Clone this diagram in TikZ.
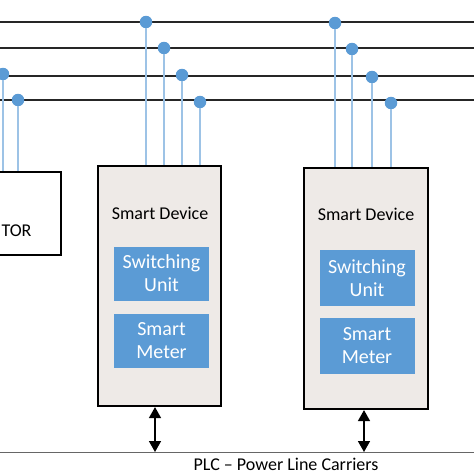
\documentclass[tikz,border=0pt]{standalone}
\usepackage{fontspec}
\setmainfont{Carlito}
\usetikzlibrary{arrows.meta}
\definecolor{tap}{HTML}{5B9BD5}
\definecolor{drop}{HTML}{9DC3E6}
\definecolor{shell}{HTML}{EEEAE7}
\definecolor{wire}{HTML}{262626}

\begin{document}
\begin{tikzpicture}[x=1pt,y=-1pt,font=\fontsize{18}{21}\selectfont,device/.style={draw=black,line width=2.2pt,fill=shell,minimum width=123pt,minimum height=240pt},unit/.style={fill=tap,text=white,font=\fontsize{20}{23}\selectfont,align=center,minimum width=95pt,minimum height=54pt,inner sep=0pt},dot/.style={circle,fill=tap,inner sep=0pt,minimum size=12.5pt},feed/.style={drop,line width=1.6pt},bus/.style={wire,line width=1.6pt},updown/.style={{Triangle[width=12pt,length=11pt]}-{Triangle[width=12pt,length=11pt]},line width=1.6pt}]
 \useasboundingbox (0,0) rectangle (474,474);
 % power lines
 \foreach \n/\y in {1/22,2/48,3/76,4/100}{
  \coordinate (bus\n w) at (0,\y); \coordinate (bus\n e) at (474,\y);
  \draw[bus] (bus\n w)--(bus\n e);}
 \coordinate (plcw) at (0,452); \coordinate (plce) at (474,452);
 \draw[gray!80!black,line width=1pt] (plcw)--(plce);
 \node[inner sep=1pt] (plc) at (286,464) {PLC -- Power Line Carriers};
 % left block, cut by the edge
 \node[draw=black,line width=2.2pt,fill=white,minimum width=72pt,minimum height=83pt] (gen) at (25,213.5) {};
 \node[anchor=east] (genlabel) at (35,231) {TOR};
 % smart devices
 \node[device] (dev1) at (159.5,286) {};
 \node (dev1title) at (160,213) {Smart Device};
 \node[unit] (su1) at (161.5,273.5) {Switching\\Unit};
 \node[unit] (sm1) at (161.5,340.5) {Smart\\Meter};
 \node[device,minimum width=124pt,minimum height=241pt] (dev2) at (366,288.5) {};
 \node (dev2title) at (366,214) {Smart Device};
 \node[unit,minimum height=56pt] (su2) at (367,278) {Switching\\Unit};
 \node[unit,minimum height=56pt] (sm2) at (367,345.5) {Smart\\Meter};
 % taps
 \foreach \n/\x/\y in {1/146/22,2/164/48,3/182/75,4/200/102}{
  \node[dot] (ta\n) at (\x,\y) {};
  \draw[feed] (ta\n)--(ta\n |- dev1.north);}
 \foreach \n/\x/\y in {1/335/23,2/352/49,3/372/77,4/391/103}{
  \node[dot] (tb\n) at (\x,\y) {};
  \draw[feed] (tb\n)--(tb\n |- dev2.north);}
 \foreach \n/\x/\y in {1/3/74,2/18/100}{
  \node[dot] (tg\n) at (\x,\y) {};
  \draw[feed] (tg\n)--(tg\n |- gen.north);}
 % links to the carrier line
 \coordinate (plc1) at (155,452); \coordinate (plc2) at (364,452);
 \draw[updown] (dev1.south -| plc1)--(plc1);
 \draw[updown] (dev2.south -| plc2)--(plc2);
\end{tikzpicture}
\end{document}
